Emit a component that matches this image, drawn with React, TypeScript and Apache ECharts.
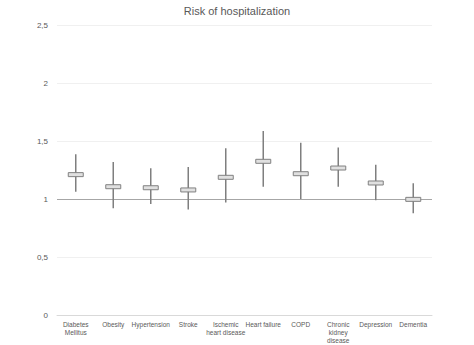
import React, { useEffect, useRef } from "react";
import * as echarts from "echarts";

const categories = [
  "Diabetes\nMellitus",
  "Obesity",
  "Hypertension",
  "Stroke",
  "Ischemic\nheart disease",
  "Heart failure",
  "COPD",
  "Chronic\nkidney\ndisease",
  "Depression",
  "Dementia",
];
const estimates = [1.21, 1.106, 1.097, 1.078, 1.187, 1.325, 1.218, 1.267, 1.138, 0.997];
const lowerCI = [1.063, 0.92, 0.957, 0.91, 0.97, 1.106, 1.0, 1.106, 0.99, 0.877];
const upperCI = [1.385, 1.32, 1.265, 1.276, 1.437, 1.586, 1.485, 1.445, 1.296, 1.135];
const yTicks = [0, 0.5, 1, 1.5, 2, 2.5];

export default function App() {
  const ref = useRef<HTMLDivElement>(null);
  useEffect(() => {
    if (!ref.current) return;
    const chart = echarts.init(ref.current, null, { renderer: "svg" });
    const data = categories.map((_, i) => [i, estimates[i], lowerCI[i], upperCI[i]]);
    chart.setOption({
      animation: false,
      backgroundColor: "#ffffff",
      title: {
        text: "Risk of hospitalization",
        left: "center",
        top: 0,
        textStyle: { fontSize: 11, fontWeight: "normal", color: "#595959", fontFamily: "Liberation Sans" },
      },
      grid: { left: 57, right: 42, top: 25, bottom: 30 },
      xAxis: {
        type: "category",
        data: categories,
        axisLine: { lineStyle: { color: "#d9d9d9" } },
        axisTick: { show: false },
        axisLabel: {
          interval: 0,
          fontSize: 6.5,
          color: "#595959",
          lineHeight: 8,
          margin: 5,
          fontFamily: "Liberation Sans",
        },
      },
      yAxis: {
        type: "value",
        min: 0,
        max: 2.5,
        interval: 0.5,
        axisLine: { show: false },
        axisTick: { show: false },
        splitLine: { lineStyle: { color: "#f0f0f0", width: 1 } },
        axisLabel: {
          fontSize: 8,
          color: "#595959",
          margin: 9,
          fontFamily: "Liberation Sans",
          formatter: (v: number) => (yTicks.includes(v) ? String(v).replace(".", ",") : ""),
        },
      },
      series: [
        {
          type: "line",
          data: [],
          markLine: {
            silent: true,
            symbol: "none",
            label: { show: false },
            lineStyle: { color: "#a6a6a6", width: 1.2, type: "solid" },
            data: [{ yAxis: 1 }],
          },
        },
        {
          type: "custom",
          data,
          z: 5,
          renderItem: (params: any, api: any) => {
            const x = api.value(0);
            const mid = api.coord([x, api.value(1)]);
            const lo = api.coord([x, api.value(2)]);
            const hi = api.coord([x, api.value(3)]);
            return {
              type: "group",
              children: [
                {
                  type: "line",
                  shape: { x1: hi[0], y1: hi[1], x2: lo[0], y2: lo[1] },
                  style: { stroke: "#7f7f7f", lineWidth: 1.5 },
                },
                {
                  type: "rect",
                  shape: { x: mid[0] - 7.5, y: mid[1] - 2, width: 15, height: 4 },
                  style: { fill: "#e0e0e0", stroke: "#808080", lineWidth: 1 },
                },
              ],
            };
          },
        },
      ],
    });
    return () => chart.dispose();
  }, []);
  return (
    <div
      ref={ref}
      style={{ position: "fixed", left: 0, top: 0, width: 474, height: 345 }}
    />
  );
}
